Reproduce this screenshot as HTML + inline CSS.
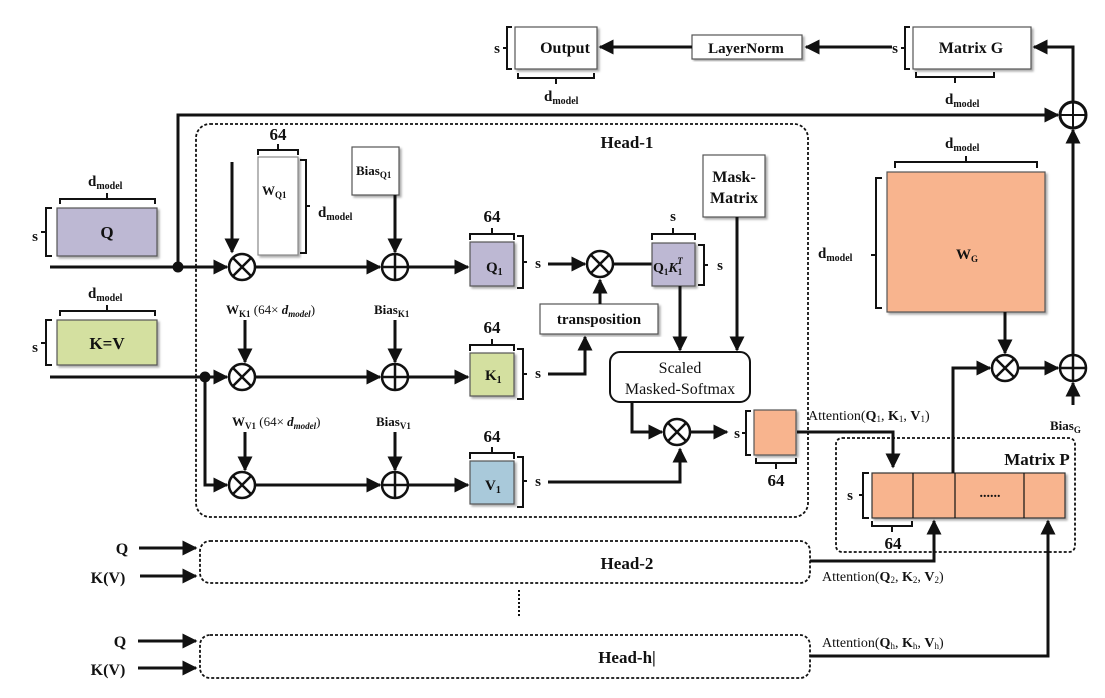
<!DOCTYPE html>
<html><head><meta charset="utf-8"><style>
html,body{margin:0;padding:0;background:#fff;}
svg{display:block;}
text{font-family:"Liberation Serif",serif;font-weight:bold;fill:#111;}
</style></head><body>
<svg width="1105" height="698" viewBox="0 0 1105 698" xmlns="http://www.w3.org/2000/svg">
<defs>
<marker id="a" viewBox="0 0 10 10" refX="9" refY="5" markerWidth="5" markerHeight="5" orient="auto"><path d="M0,0 L10,5 L0,10 z" fill="#111"/></marker>
<filter id="sh"><feDropShadow dx="2" dy="2" stdDeviation="1" flood-color="#888" flood-opacity="0.7"/></filter>
</defs>
<g stroke="#111" stroke-width="3" fill="none">
<rect x="515" y="27" width="82" height="42" fill="#fff" stroke="#555" stroke-width="1.2" filter="url(#sh)"/>
<path d="M512,27 h-5 v42 h5 M507,48 h-4" stroke-width="2"/>
<path d="M518,73 v5 h76 v-5 M556,78 v6" stroke-width="2"/>
<rect x="692" y="35" width="110" height="24" fill="#fff" stroke="#555" stroke-width="1.2" filter="url(#sh)"/>
<rect x="913" y="27" width="118" height="42" fill="#fff" stroke="#555" stroke-width="1.2" filter="url(#sh)"/>
<path d="M910,27 h-5 v42 h5 M905,48 h-4" stroke-width="2"/>
<path d="M916,72 v5 h78 v-5 M955,77 v6" stroke-width="2"/>
<path d="M692,47 H600" marker-end="url(#a)"/>
<path d="M892,47 H806" marker-end="url(#a)"/>
<path d="M1073,102 V47 H1034" marker-end="url(#a)"/>
<path d="M178,267 V115 H1058" marker-end="url(#a)"/>
<circle cx="1073" cy="115" r="13" fill="#fff"/><path d="M1060,115 h26 M1073,102 v26" stroke-width="2"/>
<rect x="196" y="124" width="612" height="393" rx="14" stroke-width="1.8" stroke-dasharray="3,2"/>
<rect x="57" y="208" width="100" height="48" fill="#bdb8d3" stroke="#555" stroke-width="1.2" filter="url(#sh)"/>
<path d="M52,208 h-6 v48 h6 M46,232 h-5" stroke-width="2"/>
<path d="M60,204 v-5 h95 v5 M107,199 v-6" stroke-width="2"/>
<path d="M50,267 H227" marker-end="url(#a)"/>
<circle cx="178" cy="267" r="4" fill="#111"/>
<rect x="57" y="320" width="100" height="45" fill="#d4e0a0" stroke="#555" stroke-width="1.2" filter="url(#sh)"/>
<path d="M52,320 h-6 v45 h6 M46,343 h-5" stroke-width="2"/>
<path d="M60,316 v-5 h95 v5 M107,311 v-6" stroke-width="2"/>
<path d="M50,377 H227" marker-end="url(#a)"/>
<circle cx="205" cy="377" r="4" fill="#111"/>
<path d="M205,377 V485 H227" marker-end="url(#a)"/>
<rect x="258" y="157" width="40" height="98" fill="#fff" stroke="#888" stroke-width="1.2" filter="url(#sh)"/>
<path d="M258,155 v-5 h40 v5 M278,150 v-6" stroke-width="2"/>
<path d="M300,160 h6 v93 h-6 M306,206 h4" stroke-width="2"/>
<path d="M232,162 V252" marker-end="url(#a)"/>
<rect x="352" y="147" width="47" height="48" fill="#fff" stroke="#555" stroke-width="1.2" filter="url(#sh)"/>
<path d="M395,195 V252" marker-end="url(#a)"/>
<path d="M245,320 V362" marker-end="url(#a)"/>
<path d="M395,320 V362" marker-end="url(#a)"/>
<path d="M245,432 V470" marker-end="url(#a)"/>
<path d="M395,432 V470" marker-end="url(#a)"/>
<path d="M255,267 H380" marker-end="url(#a)"/><path d="M408,267 H468" marker-end="url(#a)"/>
<path d="M255,377 H380" marker-end="url(#a)"/><path d="M408,377 H468" marker-end="url(#a)"/>
<path d="M255,485 H380" marker-end="url(#a)"/><path d="M408,485 H468" marker-end="url(#a)"/>
<g stroke-width="2.5">
<circle cx="242" cy="267" r="13" fill="#fff"/><path d="M233,258 l18,18 M251,258 l-18,18"/>
<circle cx="242" cy="377" r="13" fill="#fff"/><path d="M233,368 l18,18 M251,368 l-18,18"/>
<circle cx="242" cy="485" r="13" fill="#fff"/><path d="M233,476 l18,18 M251,476 l-18,18"/>
<circle cx="395" cy="267" r="13" fill="#fff"/><path d="M382,267 h26 M395,254 v26"/>
<circle cx="395" cy="377" r="13" fill="#fff"/><path d="M382,377 h26 M395,364 v26"/>
<circle cx="395" cy="485" r="13" fill="#fff"/><path d="M382,485 h26 M395,472 v26"/>
</g>
<rect x="470" y="242" width="44" height="44" fill="#bdb8d3" stroke="#555" stroke-width="1.2" filter="url(#sh)"/>
<path d="M470,240 v-6 h44 v6 M492,234 v-6" stroke-width="2"/>
<path d="M517,236 h6 v52 h-6 M523,262 h4" stroke-width="2"/>
<rect x="470" y="353" width="44" height="43" fill="#d4e0a0" stroke="#555" stroke-width="1.2" filter="url(#sh)"/>
<path d="M470,351 v-6 h44 v6 M492,345 v-6" stroke-width="2"/>
<path d="M517,349 h6 v50 h-6 M523,374 h4" stroke-width="2"/>
<rect x="470" y="461" width="44" height="43" fill="#a9c9da" stroke="#555" stroke-width="1.2" filter="url(#sh)"/>
<path d="M470,459 v-6 h44 v6 M492,453 v-6" stroke-width="2"/>
<path d="M517,457 h6 v50 h-6 M523,481 h4" stroke-width="2"/>
<path d="M548,264 H585" marker-end="url(#a)"/>
<path d="M613,264 H652"/>
<circle cx="600" cy="264" r="13" fill="#fff" stroke-width="2.5"/><path d="M591,255 l18,18 M609,255 l-18,18" stroke-width="2.5"/>
<rect x="652" y="243" width="43" height="43" fill="#bdb8d3" stroke="#555" stroke-width="1.2" filter="url(#sh)"/>
<path d="M652,240 v-6 h43 v6 M673,234 v-6" stroke-width="2"/>
<path d="M698,245 h6 v40 h-6 M704,265 h4" stroke-width="2"/>
<rect x="540" y="304" width="118" height="30" fill="#fff" stroke="#555" stroke-width="1.2" filter="url(#sh)"/>
<path d="M600,304 V280" marker-end="url(#a)"/>
<path d="M548,374 H585 V337" marker-end="url(#a)"/>
<rect x="703" y="155" width="62" height="62" fill="#fff" stroke="#555" stroke-width="1.2" filter="url(#sh)"/>
<path d="M737,217 V350" marker-end="url(#a)"/>
<path d="M680,286 V350" marker-end="url(#a)"/>
<rect x="610" y="352" width="140" height="50" rx="10" fill="#fff" stroke-width="2"/>
<path d="M632,402 V432 H662" marker-end="url(#a)"/>
<path d="M548,482 H680 V449" marker-end="url(#a)"/>
<circle cx="677" cy="432" r="13" fill="#fff" stroke-width="2.5"/><path d="M668,423 l18,18 M686,423 l-18,18" stroke-width="2.5"/>
<path d="M690,432 H727" marker-end="url(#a)"/>
<rect x="754" y="410" width="42" height="45" fill="#f8b48e" stroke="#555" stroke-width="1.2" filter="url(#sh)"/>
<path d="M751,411 h-5 v44 h5 M746,433 h-4" stroke-width="2"/>
<path d="M756,458 v5 h40 v-5 M776,463 v6" stroke-width="2"/>
<path d="M797,432 H893 V467" marker-end="url(#a)"/>
<rect x="836" y="438" width="239" height="114" rx="6" stroke-width="1.8" stroke-dasharray="3,2"/>
<rect x="872" y="473" width="193" height="45" fill="#f8b48e" stroke="#333" stroke-width="1.2" filter="url(#sh)"/>
<path d="M913,473 v45 M955,473 v45 M1024,473 v45" stroke-width="1.2"/>
<path d="M869,473 h-6 v45 h6 M863,495 h-4" stroke-width="2"/>
<path d="M872,521 v5 h40 v-5 M892,526 v6" stroke-width="2"/>
<rect x="887" y="172" width="158" height="140" fill="#f8b48e" stroke="#555" stroke-width="1.2" filter="url(#sh)"/>
<path d="M895,168 v-6 h142 v6 M966,162 v-6" stroke-width="2"/>
<path d="M882,178 h-6 v130 h6 M876,255 h-5" stroke-width="2"/>
<path d="M1005,312 V353" marker-end="url(#a)"/>
<path d="M953,473 V368 H990" marker-end="url(#a)"/>
<circle cx="1005" cy="368" r="13" fill="#fff" stroke-width="2.5"/><path d="M996,359 l18,18 M1014,359 l-18,18" stroke-width="2.5"/>
<path d="M1018,368 H1058" marker-end="url(#a)"/>
<path d="M1073,405 V383" marker-end="url(#a)"/>
<path d="M1073,355 V130" marker-end="url(#a)"/>
<circle cx="1073" cy="368" r="13" fill="#fff" stroke-width="2.5"/><path d="M1060,368 h26 M1073,355 v26" stroke-width="2.5"/>
<rect x="200" y="541" width="610" height="42" rx="10" stroke-width="1.8" stroke-dasharray="3,2"/>
<rect x="200" y="635" width="610" height="43" rx="10" stroke-width="1.8" stroke-dasharray="3,2"/>
<path d="M139,548 H196" marker-end="url(#a)"/><path d="M140,576 H196" marker-end="url(#a)"/>
<path d="M138,641 H196" marker-end="url(#a)"/><path d="M138,668 H196" marker-end="url(#a)"/>
<path d="M810,561 H934 V521" marker-end="url(#a)"/>
<path d="M810,656 H1048 V521" marker-end="url(#a)"/>
<path d="M519,590 V617" stroke-width="2" stroke-dasharray="2,2"/>
</g>
<g font-size="15">
<text x="497" y="53" text-anchor="middle">s</text>
<text x="565" y="53" text-anchor="middle" font-size="16">Output</text>
<text x="544" y="101">d<tspan font-size="10" dy="3">model</tspan></text>
<text x="746" y="53" text-anchor="middle" font-size="15">LayerNorm</text>
<text x="895" y="53" text-anchor="middle">s</text>
<text x="971" y="53" text-anchor="middle" font-size="16">Matrix G</text>
<text x="945" y="104">d<tspan font-size="10" dy="3">model</tspan></text>
<text x="627" y="148" text-anchor="middle" font-size="17">Head-1</text>
<text x="88" y="186">d<tspan font-size="10" dy="3">model</tspan></text>
<text x="107" y="238" text-anchor="middle" font-size="17">Q</text>
<text x="35" y="241" text-anchor="middle">s</text>
<text x="88" y="298">d<tspan font-size="10" dy="3">model</tspan></text>
<text x="107" y="349" text-anchor="middle" font-size="17">K=V</text>
<text x="35" y="352" text-anchor="middle">s</text>
<text x="278" y="140" text-anchor="middle" font-size="17">64</text>
<text x="262" y="195" font-size="13">W<tspan font-size="9" dy="3">Q1</tspan></text>
<text x="318" y="217">d<tspan font-size="10" dy="3">model</tspan></text>
<text x="356" y="175" font-size="13">Bias<tspan font-size="9" dy="3">Q1</tspan></text>
<text x="226" y="314" font-size="13">W<tspan font-size="9" dy="3">K1</tspan><tspan dy="-3" style="font-weight:normal"> (64× </tspan><tspan font-style="italic">d</tspan><tspan font-size="9" dy="3" font-style="italic">model</tspan><tspan dy="-3" style="font-weight:normal">)</tspan></text>
<text x="374" y="314" font-size="13">Bias<tspan font-size="9" dy="3">K1</tspan></text>
<text x="232" y="426" font-size="13">W<tspan font-size="9" dy="3">V1</tspan><tspan dy="-3" style="font-weight:normal"> (64× </tspan><tspan font-style="italic">d</tspan><tspan font-size="9" dy="3" font-style="italic">model</tspan><tspan dy="-3" style="font-weight:normal">)</tspan></text>
<text x="376" y="426" font-size="13">Bias<tspan font-size="9" dy="3">V1</tspan></text>
<text x="492" y="222" text-anchor="middle" font-size="17">64</text>
<text x="486" y="272" font-size="15">Q<tspan font-size="10" dy="3">1</tspan></text>
<text x="538" y="268" text-anchor="middle">s</text>
<text x="492" y="333" text-anchor="middle" font-size="17">64</text>
<text x="485" y="380" font-size="15">K<tspan font-size="10" dy="3">1</tspan></text>
<text x="538" y="378" text-anchor="middle">s</text>
<text x="492" y="442" text-anchor="middle" font-size="17">64</text>
<text x="485" y="490" font-size="15">V<tspan font-size="10" dy="3">1</tspan></text>
<text x="538" y="486" text-anchor="middle">s</text>
<text x="673" y="221" text-anchor="middle">s</text>
<text x="653" y="272" font-size="14">Q<tspan font-size="9" dy="3">1</tspan><tspan dy="-3" font-style="italic">K</tspan><tspan font-size="9" dy="3">1</tspan><tspan font-size="9" dx="-5" dy="-11" font-style="italic">T</tspan></text>
<text x="720" y="270" text-anchor="middle">s</text>
<text x="599" y="324" text-anchor="middle" font-size="15">transposition</text>
<text x="734" y="182" text-anchor="middle" font-size="16">Mask-</text>
<text x="734" y="203" text-anchor="middle" font-size="16">Matrix</text>
<text x="680" y="373" text-anchor="middle" font-size="16" style="font-weight:normal">Scaled</text>
<text x="680" y="394" text-anchor="middle" font-size="16" style="font-weight:normal">Masked-Softmax</text>
<text x="737" y="438" text-anchor="middle">s</text>
<text x="776" y="486" text-anchor="middle" font-size="17">64</text>
<text x="808" y="420" font-size="14" style="font-weight:normal">Attention(<tspan style="font-weight:bold">Q</tspan><tspan font-size="9" dy="2">1</tspan><tspan dy="-2">, </tspan><tspan style="font-weight:bold">K</tspan><tspan font-size="9" dy="2">1</tspan><tspan dy="-2">, </tspan><tspan style="font-weight:bold">V</tspan><tspan font-size="9" dy="2">1</tspan><tspan dy="-2">)</tspan></text>
<text x="1037" y="465" text-anchor="middle" font-size="17">Matrix P</text>
<text x="850" y="500" text-anchor="middle">s</text>
<text x="990" y="497" text-anchor="middle" font-size="14">......</text>
<text x="893" y="549" text-anchor="middle" font-size="17">64</text>
<text x="945" y="148">d<tspan font-size="10" dy="3">model</tspan></text>
<text x="818" y="258">d<tspan font-size="10" dy="3">model</tspan></text>
<text x="956" y="259" font-size="15">W<tspan font-size="9" dy="3">G</tspan></text>
<text x="1050" y="430" font-size="13">Bias<tspan font-size="9" dy="3">G</tspan></text>
<text x="627" y="569" text-anchor="middle" font-size="17">Head-2</text>
<text x="627" y="663" text-anchor="middle" font-size="17">Head-h|</text>
<text x="122" y="554" text-anchor="middle" font-size="16">Q</text>
<text x="108" y="583" text-anchor="middle" font-size="16">K(V)</text>
<text x="120" y="647" text-anchor="middle" font-size="16">Q</text>
<text x="108" y="675" text-anchor="middle" font-size="16">K(V)</text>
<text x="822" y="581" font-size="14" style="font-weight:normal">Attention(<tspan style="font-weight:bold">Q</tspan><tspan font-size="9" dy="2">2</tspan><tspan dy="-2">, </tspan><tspan style="font-weight:bold">K</tspan><tspan font-size="9" dy="2">2</tspan><tspan dy="-2">, </tspan><tspan style="font-weight:bold">V</tspan><tspan font-size="9" dy="2">2</tspan><tspan dy="-2">)</tspan></text>
<text x="822" y="647" font-size="14" style="font-weight:normal">Attention(<tspan style="font-weight:bold">Q</tspan><tspan font-size="9" dy="2">h</tspan><tspan dy="-2">, </tspan><tspan style="font-weight:bold">K</tspan><tspan font-size="9" dy="2">h</tspan><tspan dy="-2">, </tspan><tspan style="font-weight:bold">V</tspan><tspan font-size="9" dy="2">h</tspan><tspan dy="-2">)</tspan></text>
</g>
</svg>
</body></html>
